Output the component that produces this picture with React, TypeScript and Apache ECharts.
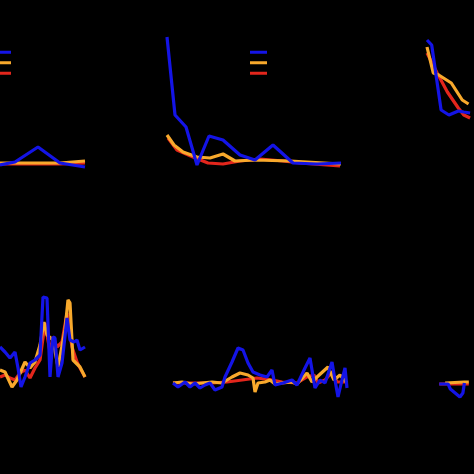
import React, { useEffect, useRef } from "react";
import * as echarts from "echarts";

// Series names (legend order) and colours
const seriesNames = ["Series A", "Series B", "Series C"];
const seriesColors = ["#1414e6", "#f8a92c", "#e3261c"];

// Panel A (top-left)
const aBlueX = [0, 1.5, 3.8, 6.0, 8.5];
const aBlueY = [0.05, 0.08, 0.23, 0.07, 0.03];
const aOrangeX = [0, 2.0, 4.0, 6.0, 8.5];
const aOrangeY = [0.07, 0.07, 0.07, 0.07, 0.09];
const aRedX = [0, 2.0, 4.0, 6.0, 8.5];
const aRedY = [0.06, 0.06, 0.06, 0.06, 0.07];

// Panel B (top-middle)
const bBlueX = [0, 0.8, 1.9, 3.0, 4.2, 5.6, 7.3, 8.8, 10.6, 12.6, 15.0, 17.4];
const bBlueY = [1.33, 0.55, 0.43, 0.05, 0.34, 0.3, 0.15, 0.1, 0.25, 0.07, 0.06, 0.07];
const bOrangeX = [0, 0.7, 1.6, 3.0, 4.3, 5.6, 6.8, 8.8, 12.3, 17.4];
const bOrangeY = [0.35, 0.25, 0.18, 0.13, 0.12, 0.16, 0.09, 0.1, 0.09, 0.06];
const bRedX = [0.1, 1.0, 2.6, 4.1, 5.6, 7.3, 9.3, 11.6, 13.3, 17.3];
const bRedY = [0.32, 0.2, 0.13, 0.07, 0.06, 0.09, 0.11, 0.09, 0.07, 0.04];

// Panel C (top-right)
const cBlueX = [0, 0.6, 1.8, 2.8, 4.0, 4.7, 5.5];
const cBlueY = [1.3, 1.25, 0.6, 0.55, 0.59, 0.58, 0.57];
const cOrangeX = [0, 0.8, 1.5, 3.1, 4.5, 5.3];
const cOrangeY = [1.23, 0.97, 0.95, 0.87, 0.7, 0.66];
const cRedX = [0, 1.3, 2.6, 4.0, 4.7, 5.5];
const cRedY = [1.17, 0.97, 0.78, 0.62, 0.55, 0.52];

// Panel D (bottom-left)
const dBlueX = [0, 0.5, 1.0, 1.5, 1.8, 2.1, 2.5, 3.0, 3.5, 4.0, 4.3, 4.7, 5.0, 5.3, 5.5, 5.8, 6.2, 6.7, 7.0, 7.4, 7.7, 8.0, 8.5];
const dBlueY = [0.33, 0.28, 0.22, 0.28, 0.12, -0.07, 0.03, 0.17, 0.2, 0.25, 0.83, 0.82, 0.03, 0.43, 0.42, 0.03, 0.17, 0.62, 0.4, 0.38, 0.4, 0.3, 0.33];
const dOrangeX = [0, 0.5, 1.2, 1.7, 2.5, 3.0, 3.5, 4.0, 4.4, 4.7, 5.3, 5.8, 6.5, 6.8, 7.0, 7.3, 8.0, 8.5];
const dOrangeY = [0.1, 0.08, -0.07, 0.0, 0.18, 0.12, 0.18, 0.35, 0.58, 0.45, 0.4, 0.13, 0.5, 0.8, 0.77, 0.2, 0.13, 0.03];
const dRedX = [0, 0.5, 1.0, 1.5, 2.0, 2.5, 3.0, 3.5, 4.0, 4.5, 5.0, 5.3, 5.7, 6.2, 6.7, 7.2, 7.7, 8.0, 8.5];
const dRedY = [0.03, 0.05, 0.02, 0.0, 0.07, 0.1, 0.02, 0.12, 0.2, 0.57, 0.28, 0.43, 0.33, 0.38, 0.67, 0.33, 0.18, 0.12, 0.03];

// Panel E (bottom-middle)
const eBlueX = [0.1, 0.6, 1.3, 1.8, 2.3, 2.8, 3.3, 3.8, 4.3, 5.0, 5.3, 6.0, 6.6, 7.1, 7.6, 8.1, 8.8, 9.5, 10.0, 10.3, 11.1, 12.0, 12.5, 13.3, 13.8, 14.3, 14.8, 15.3, 16.0, 16.3, 16.6, 17.0, 17.3, 17.5];
const eBlueY = [-0.03, -0.07, -0.02, -0.07, -0.03, -0.08, -0.05, -0.03, -0.1, -0.07, 0.03, 0.18, 0.32, 0.3, 0.17, 0.08, 0.05, 0.03, 0.1, -0.05, -0.03, 0.0, -0.05, 0.12, 0.22, -0.08, 0.0, -0.03, 0.18, 0.0, -0.17, 0.0, 0.12, -0.08];
const eOrangeX = [0.1, 1.0, 2.0, 3.0, 4.0, 5.0, 6.0, 6.8, 7.6, 8.1, 8.3, 8.6, 9.3, 9.8, 10.3, 11.0, 12.0, 12.5, 13.5, 14.0, 14.5, 15.6, 16.2, 16.8, 17.5];
const eOrangeY = [-0.03, -0.02, -0.04, -0.03, -0.02, -0.03, 0.03, 0.07, 0.05, 0.02, -0.12, -0.03, -0.02, 0.0, -0.04, -0.03, -0.02, -0.04, 0.07, -0.02, 0.03, 0.13, 0.0, 0.05, -0.03];
const eRedX = [0.1, 2.0, 4.0, 5.5, 7.0, 8.5, 10.0, 11.0, 12.5, 13.5, 14.2, 14.6, 15.3, 16.0, 16.5, 17.5];
const eRedY = [-0.03, -0.03, -0.03, -0.02, 0.0, 0.02, 0.0, -0.02, -0.03, 0.03, 0.05, -0.03, 0.0, 0.08, -0.02, -0.02];

// Panel F (bottom-right)
const fBlueX = [0.3, 1.5, 1.8, 3.1, 3.5, 3.7];
const fBlueY = [-0.04, -0.04, -0.09, -0.17, -0.13, -0.03];
const fOrangeX = [1.1, 3.7, 4.3];
const fOrangeY = [-0.03, -0.02, -0.02];
const fRedX = [0.3, 3.7, 4.3];
const fRedY = [-0.04, -0.04, -0.04];

const zip = (xs: number[], ys: number[]) => xs.map((x, i) => [x, ys[i]]);

const panels = [
  { grid: { left: 0, top: 30, width: 85, height: 140 }, xMax: 8.5, yMin: 0, yMax: 1.4,
    lines: [[aBlueX, aBlueY], [aOrangeX, aOrangeY], [aRedX, aRedY]] },
  { grid: { left: 167, top: 30, width: 174, height: 140 }, xMax: 17.4, yMin: 0, yMax: 1.4,
    lines: [[bBlueX, bBlueY], [bOrangeX, bOrangeY], [bRedX, bRedY]] },
  { grid: { left: 427, top: 30, width: 60, height: 140 }, xMax: 6, yMin: 0, yMax: 1.4,
    lines: [[cBlueX, cBlueY], [cOrangeX, cOrangeY], [cRedX, cRedY]] },
  { grid: { left: 0, top: 290, width: 85, height: 120 }, xMax: 8.5, yMin: -0.3, yMax: 0.9,
    lines: [[dBlueX, dBlueY], [dOrangeX, dOrangeY], [dRedX, dRedY]] },
  { grid: { left: 172, top: 290, width: 175, height: 120 }, xMax: 17.5, yMin: -0.3, yMax: 0.9,
    lines: [[eBlueX, eBlueY], [eOrangeX, eOrangeY], [eRedX, eRedY]] },
  { grid: { left: 437, top: 290, width: 50, height: 120 }, xMax: 5, yMin: -0.3, yMax: 0.9,
    lines: [[fBlueX, fBlueY], [fOrangeX, fOrangeY], [fRedX, fRedY]] },
];

export default function App() {
  const ref = useRef<HTMLDivElement>(null);
  useEffect(() => {
    if (!ref.current) return;
    const chart = echarts.init(ref.current, undefined, { renderer: "svg" });
    const axisCommon = {
      axisLine: { show: true, lineStyle: { color: "#000" } },
      axisTick: { show: false },
      axisLabel: { show: false },
      splitLine: { show: false },
    };
    const series: any[] = [];
    panels.forEach((p, pi) => {
      // draw red first, then orange, then blue on top
      [2, 1, 0].forEach((si) => {
        const [xs, ys] = p.lines[si];
        series.push({
          type: "line",
          name: seriesNames[si],
          xAxisIndex: pi,
          yAxisIndex: pi,
          data: zip(xs as number[], ys as number[]),
          showSymbol: false,
          symbol: "none",
          lineStyle: { width: 3.2, color: seriesColors[si] },
          itemStyle: { color: seriesColors[si] },
          z: 3 - si,
        });
      });
    });
    const legendCommon = {
      orient: "vertical",
      data: seriesNames,
      icon: "rect",
      itemWidth: 17,
      itemHeight: 3,
      itemGap: 0,
      padding: 0,
      textStyle: { color: "#000", fontSize: 9, lineHeight: 10.5, fontFamily: "DejaVu Sans" },
    };
    chart.setOption({
      animation: false,
      backgroundColor: "#000",
      legend: [
        { ...legendCommon, left: -6, top: 47 },
        { ...legendCommon, left: 250, top: 47 },
      ],
      grid: panels.map((p) => ({ ...p.grid, containLabel: false })),
      xAxis: panels.map((p, i) => ({ type: "value", gridIndex: i, min: 0, max: p.xMax, ...axisCommon })),
      yAxis: panels.map((p, i) => ({ type: "value", gridIndex: i, min: p.yMin, max: p.yMax, ...axisCommon })),
      series,
    });
    return () => chart.dispose();
  }, []);
  return (
    <div
      ref={ref}
      style={{ position: "fixed", left: 0, top: 0, width: 474, height: 474, background: "#000" }}
    />
  );
}
